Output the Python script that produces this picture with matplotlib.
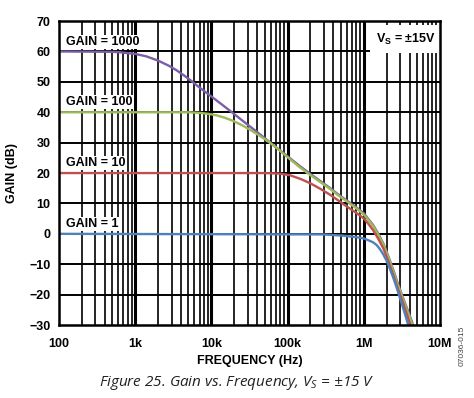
import numpy as np
import matplotlib.pyplot as plt
from matplotlib.ticker import FixedLocator, NullFormatter

plt.rcParams['font.family'] = ['Liberation Sans', 'DejaVu Sans']
plt.rcParams['mathtext.fontset'] = 'custom'
plt.rcParams['mathtext.it'] = 'Open Sans:italic'
plt.rcParams['mathtext.rm'] = 'Liberation Sans'
plt.rcParams['mathtext.bf'] = 'Liberation Sans:bold'

# values (frequency in Hz, gain in dB)
f_g1000 = [100, 450, 600, 1e3, 1.4e3, 2e3, 2.77e3, 3.5e3, 4.5e3, 5.6e3, 7.1e3, 10e3,
           14e3, 19.5e3, 27e3, 38e3, 53e3, 75e3, 100e3, 145e3, 197e3, 268e3,
           360e3, 450e3, 597e3, 800e3, 1e6, 1.15e6, 1.33e6, 1.55e6, 1.82e6,
           2.1e6, 2.45e6, 2.85e6, 3.3e6, 3.9e6, 4.6e6]
g_g1000 = [60, 59.9, 59.8, 59.2, 58.4, 57.0, 55.3, 53.8, 51.9, 50.1, 48.0, 45.2,
           42.4, 39.6, 36.8, 33.9, 31.0, 28.0, 25.5, 22.3, 19.8, 17.4,
           15.1, 13.2, 11.0, 8.7, 6.8, 4.9, 2.9, 0.1, -3.3,
           -7.3, -11.9, -16.8, -21.2, -26.0, -31.0]

f_g100 = [100, 5e3, 7.1e3, 9e3, 11.7e3, 15e3, 19.5e3, 25e3, 32e3, 41e3, 53e3,
          70e3, 98e3, 140e3, 197e3, 270e3, 360e3, 450e3, 597e3, 800e3, 1e6,
          1.15e6, 1.33e6, 1.55e6, 1.82e6, 2.1e6, 2.45e6, 2.85e6, 3.3e6, 3.9e6, 4.5e6]
g_g100 = [40, 40, 39.8, 39.5, 39.0, 38.2, 37.1, 35.8, 34.3, 32.6, 30.8,
          28.5, 25.4, 22.2, 19.4, 17.0, 14.8, 12.9, 10.7, 8.4, 6.4,
          4.6, 2.6, -0.2, -3.6, -7.6, -12.3, -17.3, -21.6, -26.6, -31.0]

f_g10 = [100, 50e3, 80e3, 107e3, 150e3, 200e3, 270e3, 360e3, 450e3, 600e3, 800e3,
         1e6, 1.15e6, 1.33e6, 1.55e6, 1.82e6, 2.1e6, 2.45e6, 2.85e6, 3.3e6, 3.8e6, 4.2e6]
g_g10 = [20, 20, 19.8, 19.3, 18.0, 16.6, 14.8, 12.9, 11.2, 9.0, 6.9,
         5.1, 3.3, 1.2, -1.6, -4.9, -9.0, -13.6, -18.5, -22.9, -27.5, -31.0]

f_g1 = [100, 300e3, 537e3, 800e3, 1e6, 1.2e6, 1.33e6, 1.48e6, 1.63e6, 1.8e6,
        2.0e6, 2.2e6, 2.45e6, 2.7e6, 3.0e6, 3.4e6, 3.95e6]
g_g1 = [0, -0.2, -0.6, -1.1, -1.5, -2.3, -2.8, -3.7, -5.0, -6.7,
        -8.9, -11.4, -14.5, -17.6, -21.2, -25.5, -31.0]

series = [
    (f_g1000, g_g1000, '#7B5EA7', 'GAIN = 1000', 63.1),
    (f_g100, g_g100, '#9BBB59', 'GAIN = 100', 43.4),
    (f_g10, g_g10, '#C0504D', 'GAIN = 10', 23.3),
    (f_g1, g_g1, '#4F81BD', 'GAIN = 1', 3.2),
]

x_ticks = [100, 1e3, 1e4, 1e5, 1e6, 1e7]
x_labels = ['100', '1k', '10k', '100k', '1M', '10M']
y_ticks = list(range(-30, 71, 10))
y_labels = [str(v).replace('-', '\u2212') for v in y_ticks]

fig = plt.figure(figsize=(4.74, 3.98), dpi=100)
ax = fig.add_axes([0.1245, 0.1834, 0.8035, 0.7636])
ax.set_xscale('log')
ax.set_xlim(100, 1e7)
ax.set_ylim(-30, 70)

# grid: thick decades, thin minors
minors = [m * 10 ** e for e in range(2, 7) for m in range(2, 10)]
for xv in minors:
    ax.axvline(xv, color='black', lw=1.2, zorder=1)
for xv in x_ticks[1:-1]:
    ax.axvline(xv, color='black', lw=2.2, zorder=1)
for yv in y_ticks[1:-1]:
    ax.axhline(yv, color='black', lw=1.4, zorder=1)

for f, g, c, lab, ly in series:
    ax.plot(f, g, color=c, lw=1.7, zorder=3, solid_joinstyle='round')
    ax.text(123, ly, lab, fontsize=9, fontweight='bold', va='center', ha='left',
            zorder=4, bbox=dict(facecolor='white', edgecolor='none', pad=1.0))

ax.text(0.99, 0.965, r'V$_\mathbf{S}$ = ±15V', transform=ax.transAxes, fontsize=9,
        fontweight='bold', ha='right', va='top', zorder=4,
        bbox=dict(facecolor='white', edgecolor='none', pad=4.5))

ax.xaxis.set_major_locator(FixedLocator(x_ticks))
ax.set_xticklabels(x_labels)
ax.xaxis.set_minor_formatter(NullFormatter())
ax.set_yticks(y_ticks)
ax.set_yticklabels(y_labels)
ax.tick_params(which='both', length=0, labelsize=9)
ax.tick_params(axis='x', pad=9)
ax.tick_params(axis='y', pad=6)
for t in ax.get_xticklabels() + ax.get_yticklabels():
    t.set_fontweight('bold')

for s in ax.spines.values():
    s.set_linewidth(1.8)
    s.set_zorder(5)

ax.set_xlabel('FREQUENCY (Hz)', fontsize=9, fontweight='bold', labelpad=4)
ax.set_ylabel('GAIN (dB)', fontsize=9, fontweight='bold', labelpad=8)

fig.text(0.5, 0.037, r'Figure 25. Gain vs. Frequency, $V_S$ = ±15 $V$', ha='center',
         va='center', fontsize=11, family='Open Sans', style='italic', color='#222222')
fig.text(0.975, 0.13, '07036-015', rotation=90, fontsize=6, ha='center', va='center',
         color='#444444')

fig.savefig('out.png', dpi=100)
